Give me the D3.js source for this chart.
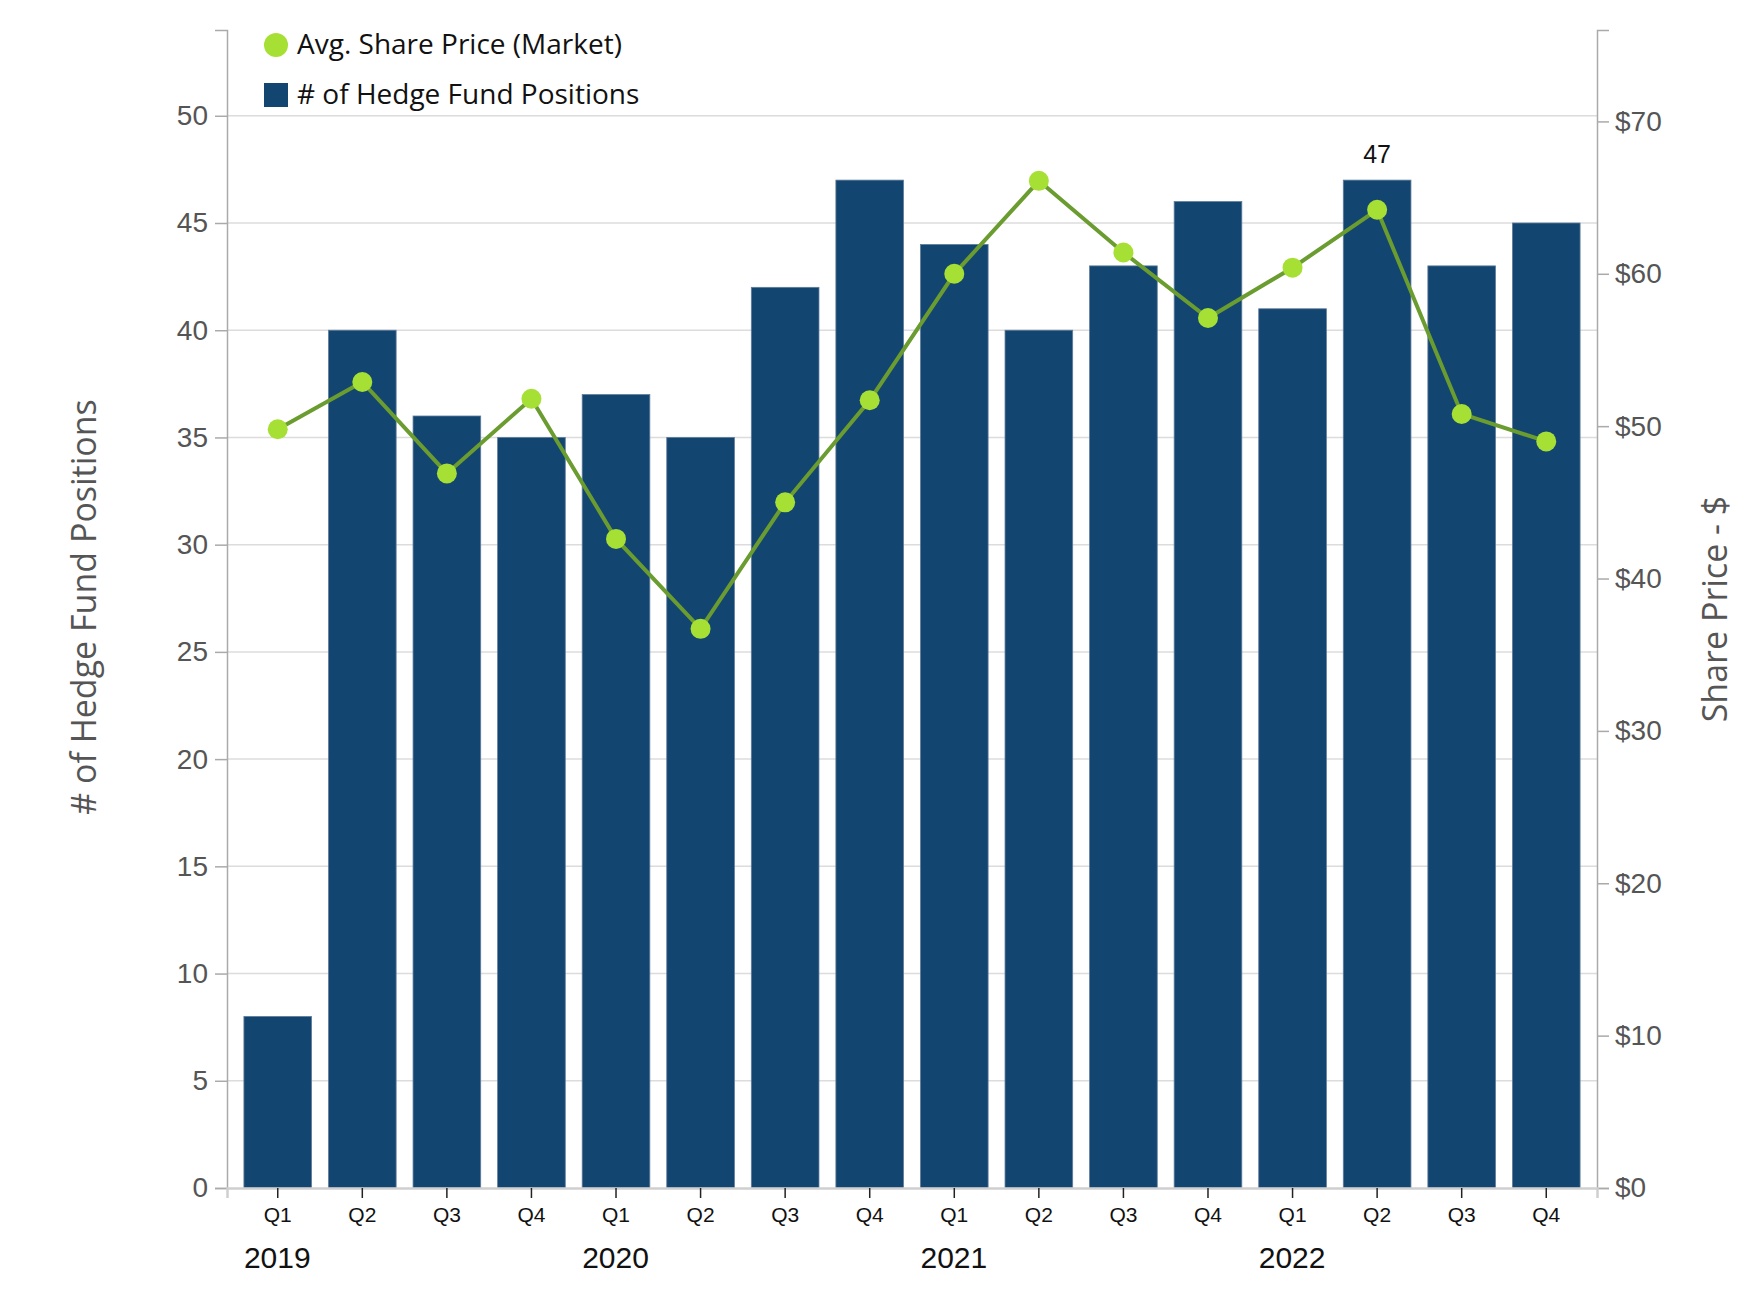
<!DOCTYPE html>
<html>
<head>
<meta charset="utf-8">
<script src="https://cdn.jsdelivr.net/npm/d3@7"></script>
<style>
  body { margin: 0; background: #fff; }
  text { font-family: "Liberation Sans", Arial, sans-serif; }
  .title, .legend text { font-family: "Open Sans", Lato, sans-serif; }
</style>
</head>
<body>
<div id="chart"></div>
<script>
// data
const quarters = ["Q1", "Q2", "Q3", "Q4", "Q1", "Q2", "Q3", "Q4", "Q1", "Q2", "Q3", "Q4", "Q1", "Q2", "Q3", "Q4"];
const years = ["2019", "2019", "2019", "2019", "2020", "2020", "2020", "2020", "2021", "2021", "2021", "2021", "2022", "2022", "2022", "2022"];
const positions = [8, 40, 36, 35, 37, 35, 42, 47, 44, 40, 43, 46, 41, 47, 43, 45];
const prices = [49.8, 52.9, 46.9, 51.8, 42.6, 36.7, 45.0, 51.7, 60.0, 66.1, 61.4, 57.1, 60.4, 64.2, 50.8, 49.0];
const leftTicks = [0, 5, 10, 15, 20, 25, 30, 35, 40, 45, 50];
const rightTicks = [0, 10, 20, 30, 40, 50, 60, 70];
const labelIndex = 13; // only this bar gets a value label

const W = 1754, H = 1312;
const margin = { top: 30, right: 157, bottom: 124, left: 227 };
const width = W - margin.left - margin.right;
const height = H - margin.top - margin.bottom;

const svg = d3.select("#chart").append("svg")
  .attr("width", W)
  .attr("height", H);

const g = svg.append("g")
  .attr("transform", `translate(${margin.left},${margin.top})`);

const keys = quarters.map((q, i) => i);

const x = d3.scaleBand()
  .domain(keys)
  .range([0, width])
  .paddingInner(0.2)
  .paddingOuter(0.2);

const y = d3.scaleLinear().domain([0, 54]).range([height, 0]);
const y2 = d3.scaleLinear().domain([0, 76]).range([height, 0]);

// gridlines
g.append("g")
  .selectAll("line")
  .data(leftTicks.filter(d => d > 0))
  .enter()
  .append("line")
  .attr("x1", 0)
  .attr("x2", width)
  .attr("y1", d => y(d))
  .attr("y2", d => y(d))
  .attr("stroke", "#dcdcdc")
  .attr("stroke-width", 1.5);

// bars
g.selectAll(".bar")
  .data(positions)
  .enter()
  .append("rect")
  .attr("class", "bar")
  .attr("x", (d, i) => x(i))
  .attr("y", d => y(d))
  .attr("width", x.bandwidth())
  .attr("height", d => height - y(d))
  .attr("fill", "#134571")
  .attr("stroke", "#5f7d9b")
  .attr("stroke-width", 0.8);

// value label
g.append("text")
  .attr("x", x(labelIndex) + x.bandwidth() / 2)
  .attr("y", y(positions[labelIndex]) - 17)
  .attr("text-anchor", "middle")
  .attr("font-size", 25)
  .attr("fill", "#111")
  .text(positions[labelIndex]);

// left axis
const leftAxis = g.append("g")
  .call(d3.axisLeft(y).tickValues(leftTicks).tickSizeInner(12).tickSizeOuter(12).tickPadding(7));
leftAxis.selectAll("path, line").attr("stroke", "#aaa").attr("stroke-width", 1.5);
leftAxis.selectAll("text").attr("font-size", 28).attr("fill", "#555")
  .attr("font-family", "Liberation Sans, Arial, sans-serif");

// right axis
const rightAxis = g.append("g")
  .attr("transform", `translate(${width},0)`)
  .call(d3.axisRight(y2).tickValues(rightTicks).tickFormat(d => "$" + d)
    .tickSizeInner(12).tickSizeOuter(12).tickPadding(6));
rightAxis.selectAll("path, line").attr("stroke", "#aaa").attr("stroke-width", 1.5);
rightAxis.selectAll("text").attr("font-size", 28).attr("fill", "#555")
  .attr("font-family", "Liberation Sans, Arial, sans-serif");

// bottom axis
const bottomAxis = g.append("g")
  .attr("transform", `translate(0,${height})`)
  .call(d3.axisBottom(x).tickFormat(i => quarters[i]).tickSizeInner(10).tickSizeOuter(10).tickPadding(9));
bottomAxis.select(".domain").attr("stroke", "#cfcfcf").attr("stroke-width", 2.5);
bottomAxis.selectAll(".tick line").attr("stroke", "#222").attr("stroke-width", 1.5);
bottomAxis.selectAll("text").attr("font-size", 21).attr("fill", "#111")
  .attr("font-family", "Liberation Sans, Arial, sans-serif");

// year labels under first quarter of each year
g.selectAll(".year")
  .data(keys.filter(i => i === 0 || years[i] !== years[i - 1]))
  .enter()
  .append("text")
  .attr("class", "year")
  .attr("x", i => x(i))
  .attr("y", height + 80)
  .attr("font-size", 30)
  .attr("fill", "#111")
  .text(i => years[i]);

// price line
const line = d3.line()
  .x((d, i) => x(i) + x.bandwidth() / 2)
  .y(d => y2(d));

g.append("path")
  .datum(prices)
  .attr("d", line)
  .attr("fill", "none")
  .attr("stroke", "#6a9c30")
  .attr("stroke-width", 4);

g.selectAll(".dot")
  .data(prices)
  .enter()
  .append("circle")
  .attr("class", "dot")
  .attr("cx", (d, i) => x(i) + x.bandwidth() / 2)
  .attr("cy", d => y2(d))
  .attr("r", 10)
  .attr("fill", "#a6e034");

// axis titles
svg.append("text")
  .attr("class", "title")
  .attr("transform", "translate(96,607) rotate(-90)")
  .attr("text-anchor", "middle")
  .attr("font-size", 34)
  .attr("fill", "#555")
  .text("# of Hedge Fund Positions");

svg.append("text")
  .attr("class", "title")
  .attr("transform", "translate(1727,609) rotate(-90)")
  .attr("text-anchor", "middle")
  .attr("font-size", 34)
  .attr("fill", "#555")
  .text("Share Price - $");

// legend
const legend = svg.append("g").attr("class", "legend");
legend.append("circle")
  .attr("cx", 276).attr("cy", 45).attr("r", 12)
  .attr("fill", "#a6e034");
legend.append("text")
  .attr("x", 297).attr("y", 54)
  .attr("font-size", 28).attr("fill", "#111")
  .text("Avg. Share Price (Market)");
legend.append("rect")
  .attr("x", 264).attr("y", 83).attr("width", 24).attr("height", 24)
  .attr("fill", "#134571");
legend.append("text")
  .attr("x", 297).attr("y", 104)
  .attr("font-size", 28).attr("fill", "#111")
  .text("# of Hedge Fund Positions");
</script>
</body>
</html>
